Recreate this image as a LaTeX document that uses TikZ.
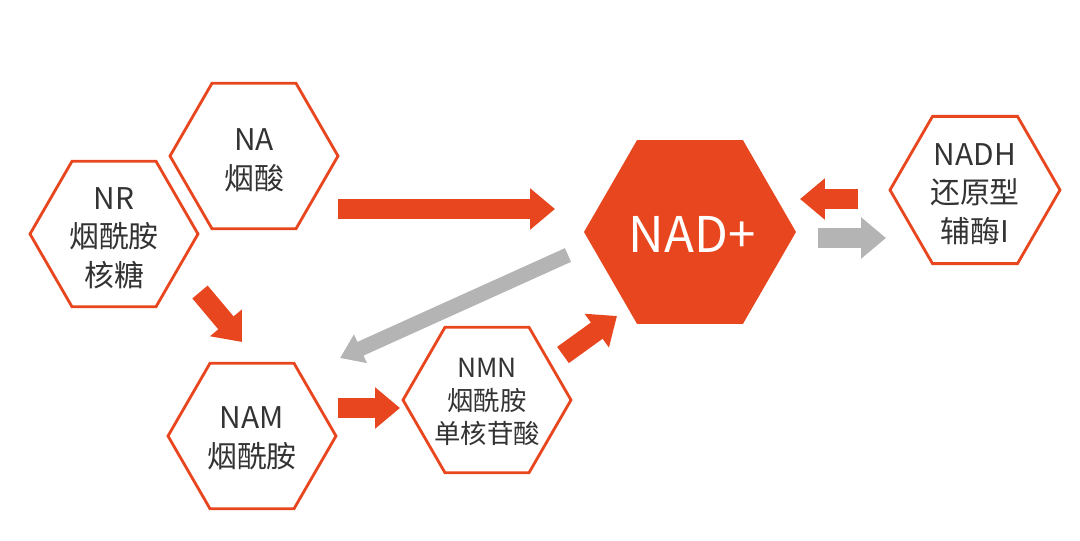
\documentclass[tikz,border=0pt]{standalone}
\usepackage{fontspec}
\setmainfont{Noto Sans CJK SC}
\usetikzlibrary{arrows.meta}
\definecolor{org}{HTML}{E8461E}
\definecolor{gry}{HTML}{B4B4B4}
\definecolor{txt}{HTML}{333333}
\tikzset{
 hexo/.style={draw=org,line width=1.6pt,fill=white},
 lab/.style={text=txt,align=center,font=\fontsize{17}{22}\selectfont},
 barr/.style={line width=0.4cm,draw=#1,-{Triangle[width=0.8cm,length=0.5cm]}},
}
\newcommand{\hexag}[4]{% x y r style
 \path[#4] (#1+#3,#2) -- (#1+#3/2,#2+0.866*#3) -- (#1-#3/2,#2+0.866*#3) -- (#1-#3,#2) -- (#1-#3/2,#2-0.866*#3) -- (#1+#3/2,#2-0.866*#3) -- cycle;}
\begin{document}
\begin{tikzpicture}[x=0.02cm,y=-0.02cm]
\useasboundingbox (0,0) rectangle (1080,541);
\hexag{254}{156}{84}{hexo}
\hexag{114}{234}{84}{hexo}
\hexag{252}{436}{84}{hexo}
\hexag{487}{400}{84}{hexo}
\hexag{975}{190}{85}{hexo}
\hexag{690}{232}{106}{fill=org}
\node[lab] (na) at (254,160) {NA\\烟酸};
\node[lab] (nr) at (114,238) {NR\\烟酰胺\\核糖};
\node[lab] (nam) at (252,438) {NAM\\烟酰胺};
\node[lab,font=\fontsize{15}{19}\selectfont] (nmn) at (487,402) {NMN\\烟酰胺\\单核苷酸};
\node[lab] (nadh) at (975,194) {NADH\\还原型\\辅酶I};
\node[text=white,font=\fontsize{28}{30}\selectfont] (nad) at (692,234) {NAD+};
\coordinate (a1) at (338,209); \coordinate (a2) at (555,209);
\coordinate (b1) at (818,238); \coordinate (b2) at (886,238);
\coordinate (c1) at (858,199); \coordinate (c2) at (800,199);
\coordinate (d1) at (200,292); \coordinate (d2) at (242,342);
\coordinate (e1) at (338,408); \coordinate (e2) at (400,408);
\coordinate (f1) at (563,355); \coordinate (f2) at (617,316);
\coordinate (g1) at (568,255); \coordinate (g2) at (340,358);
\draw[barr=org] (a1) -- (a2);
\draw[barr=gry] (b1) -- (b2);
\draw[barr=org] (c1) -- (c2);
\draw[barr=org] (d1) -- (d2);
\draw[barr=org] (e1) -- (e2);
\draw[barr=org] (f1) -- (f2);
\draw[line width=0.3cm,draw=gry,-{Triangle[width=0.6cm,length=0.45cm]}] (g1) -- (g2);
\end{tikzpicture}
\end{document}
